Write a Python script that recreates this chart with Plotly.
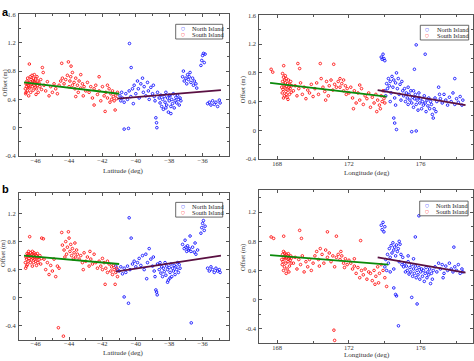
import plotly.graph_objects as go

# ---------------- data ----------------
# Panel a, offset vs latitude
a_lat_south = [(-46.62,0.55),(-46.6,0.48),(-46.58,0.62),(-46.55,0.58),(-46.52,0.66),(-46.5,0.52),(-46.48,0.7),(-46.45,0.6),(-46.42,0.45),(-46.4,0.64),(-46.38,0.9),(-46.36,0.56),(-46.33,0.72),(-46.3,0.5),(-46.28,0.68),(-46.25,0.62),(-46.22,0.74),(-46.2,0.58),(-46.18,0.66),(-46.15,0.53),(-46.12,0.7),(-46.1,0.6),(-46.08,0.75),(-46.05,0.64),(-46.02,0.57),(-46.0,0.69),(-45.97,0.62),(-45.95,0.55),(-45.92,0.72),(-45.9,0.6),(-45.87,0.66),(-45.85,0.5),(-45.8,0.63),(-45.75,0.58),(-45.7,0.68),(-45.65,0.54),(-46.58,0.5),(-46.5,0.62),(-46.44,0.57),(-46.3,0.61),(-46.1,0.65),(-45.98,0.47),
    (-45.6,0.85),(-45.55,0.78),(-45.5,0.6),(-45.4,0.52),(-45.3,0.65),(-45.2,0.45),(-45.1,0.58),(-45.0,0.5),(-44.9,0.62),(-44.8,0.55),(-44.7,0.48),(-44.6,0.6),(-44.5,0.66),
    (-44.44,0.91),(-44.04,0.93),(-43.88,0.87),(-44.4,0.7),(-44.3,0.62),(-44.2,0.68),(-44.1,0.74),(-44.0,0.58),(-43.95,0.66),(-43.9,0.72),(-43.8,0.6),(-43.7,0.64),(-43.65,0.55),(-43.6,0.7),(-43.5,0.6),(-43.45,0.5),(-43.4,0.66),(-43.3,0.56),(-43.2,0.62),(-43.15,0.45),(-43.1,0.58),(-43.0,0.52),(-43.8,0.78),(-43.3,0.75),(-43.6,0.44),
    (-42.9,0.64),(-42.8,0.5),(-42.7,0.58),(-42.6,0.42),(-42.5,0.55),(-42.4,0.6),(-42.3,0.47),(-42.2,0.52),(-42.1,0.38),(-42.0,0.58),(-41.9,0.45),(-41.84,0.23),(-41.8,0.5),(-41.7,0.42),(-41.6,0.55),(-41.55,0.36),(-41.5,0.48),(-41.45,0.4),(-41.4,0.52),(-41.35,0.44),(-41.3,0.38),(-41.24,0.25),(-41.2,0.46),(-41.15,0.41),(-41.1,0.5),(-42.5,0.32),(-42.2,0.72),(-41.7,0.6)]
a_lat_north = [(-40.95,0.45),(-40.9,0.38),(-40.85,0.5),(-40.8,0.42),(-40.7,-0.02),(-40.7,0.36),(-40.6,0.48),(-40.5,0.4),(-40.44,-0.01),(-40.4,0.52),(-40.38,1.19),(-40.3,0.44),(-40.28,0.85),(-40.2,0.55),(-40.15,0.34),(-40.1,0.6),(-40.0,0.48),(-39.9,0.66),(-39.85,0.55),(-39.8,0.42),(-39.7,0.62),(-39.6,0.7),(-39.55,0.5),(-39.5,0.58),(-39.4,0.45),(-39.3,0.64),(-39.25,0.52),(-39.2,0.4),(-39.1,0.57),(-39.0,0.48),(-38.95,0.6),(-38.9,0.44),(-38.85,0.38),(-38.8,0.14),(-38.76,0.07),(-38.74,0.0),(-38.7,0.5),(-38.6,0.42),(-38.55,0.35),(-38.5,0.46),(-38.45,0.3),(-38.4,0.4),(-38.35,0.26),(-38.3,0.44),(-38.25,0.36),(-38.2,0.5),(-38.15,0.32),(-38.1,0.42),(-38.05,0.22),(-38.0,0.38),(-37.95,0.45),(-37.9,0.3),(-37.85,0.4),(-37.8,0.34),(-37.75,0.48),(-37.7,0.28),(-37.65,0.38),(-37.6,0.43),(-37.55,0.35),(-37.5,0.46),(-37.45,0.4),(-37.4,0.32),(-37.35,0.42),(-37.3,0.38),(-38.2,0.28),(-37.9,0.2),(-38.0,0.46),
    (-37.2,0.72),(-37.1,0.66),(-37.0,0.7),(-36.95,0.62),(-36.9,0.75),(-36.85,0.68),(-36.8,0.72),(-36.7,0.64),(-36.6,0.7),(-36.55,0.6),(-36.5,0.66),(-36.4,0.62),(-36.35,0.56),(-37.15,0.8),(-36.75,0.78),
    (-36.1,0.88),(-36.05,0.95),(-36.0,1.02),(-35.95,1.05),(-35.9,0.92),(-35.85,1.04),
    (-35.7,0.34),(-35.6,0.36),(-35.5,0.32),(-35.4,0.38),(-35.3,0.33),(-35.2,0.36),(-35.1,0.3),(-35.0,0.39),(-34.95,0.35)]

# Panel a, offset vs longitude
a_lon_south = [(167.66,0.85),(167.75,0.81),
    (168.25,0.6),(168.28,0.52),(168.3,0.68),(168.32,0.57),(168.35,0.74),(168.36,0.9),(168.38,0.63),(168.4,0.48),(168.42,0.7),(168.44,0.59),(168.46,0.66),(168.48,0.54),(168.5,0.72),(168.52,0.61),(168.55,0.46),(168.58,0.65),(168.6,0.56),(168.62,0.7),(168.65,0.6),(168.68,0.5),(168.7,0.64),(168.72,0.58),(168.75,0.68),(168.78,0.53),(168.8,0.62),(168.3,0.79),(168.35,0.45),(168.45,0.76),(168.5,0.5),(168.6,0.43),
    (168.9,0.55),(169.0,0.62),(169.1,0.48),(169.15,0.93),(169.25,0.86),(169.2,0.58),(169.3,0.66),(169.4,0.5),(169.5,0.6),(169.6,0.44),(169.7,0.56),(169.8,0.52),(169.9,0.64),(170.0,0.47),
    (170.1,0.58),(170.2,0.66),(170.3,0.5),(170.4,0.93),(170.45,0.72),(170.55,0.6),(170.65,0.54),(170.75,0.68),(170.85,0.48),(170.9,0.62),(171.0,0.7),(171.1,0.56),(171.15,0.92),(171.2,0.64),(171.3,0.6),(170.7,0.42),
    (171.4,0.68),(171.5,0.6),(171.6,0.65),(171.7,0.55),(171.8,0.62),(171.9,0.58),(172.0,0.52),(171.5,0.72),(171.7,0.7),(171.85,0.5),
    (172.1,0.6),(172.2,0.45),(172.3,0.55),(172.4,0.38),(172.5,0.52),(172.6,0.42),(172.7,0.58),(172.8,0.36),(172.9,0.48),(173.0,0.44),(173.1,0.52),(173.2,0.32),(172.25,0.3),(172.6,0.63),
    (173.3,0.46),(173.4,0.38),(173.5,0.5),(173.55,0.26),(173.6,0.42),(173.7,0.35),(173.8,0.48),(173.85,0.4),(173.9,0.55),(173.95,0.44),(174.0,0.38),(173.75,0.3)]
a_lon_north = [(173.8,1.02),(173.85,0.99),(173.9,1.06),(173.95,1.0),(174.0,0.97),
    (174.0,0.55),(174.05,0.48),(174.1,0.65),(174.15,0.58),(174.2,0.72),(174.25,0.62),(174.3,0.68),(174.35,0.52),(174.4,0.75),(174.45,0.6),(174.5,0.7),(174.55,0.45),(174.6,0.66),(174.65,0.8),(174.7,0.58),(174.75,0.72),(174.8,0.5),(174.85,0.64),(174.9,0.42),(174.95,0.68),(175.0,0.55),(174.3,0.4),(174.6,0.35),
    (174.5,0.17),(174.55,0.1),(174.65,0.01),(175.5,-0.02),(175.75,-0.01),(175.75,1.19),(176.25,1.06),(175.65,0.85),
    (175.05,0.48),(175.1,0.58),(175.15,0.4),(175.2,0.52),(175.25,0.45),(175.3,0.36),(175.35,0.5),(175.4,0.42),(175.45,0.55),(175.5,0.38),(175.55,0.46),(175.6,0.32),(175.65,0.44),(175.7,0.5),(175.75,0.36),(175.8,0.42),(175.85,0.28),(175.9,0.46),(175.95,0.38),(176.0,0.44),(176.05,0.3),(176.1,0.4),(176.15,0.35),(176.2,0.48),(176.25,0.38),(176.3,0.26),(176.35,0.42),(176.4,0.34),(176.45,0.45),(176.5,0.3),(176.55,0.4),(175.3,0.6),(175.6,0.55),(175.9,0.52),
    (176.6,0.36),(176.65,0.22),(176.7,0.17),(176.75,0.3),(176.8,0.45),(176.85,0.26),(176.9,0.4),(177.0,0.6),(177.05,0.5),
    (177.1,0.44),(177.2,0.38),(177.3,0.5),(177.4,0.42),(177.5,0.35),(177.6,0.46),(177.7,0.4),(177.8,0.52),(177.9,0.36),(178.0,0.44),(178.1,0.39),(178.2,0.47),(178.3,0.35),(178.35,0.42),(177.9,0.72)]

# Panel b, offset vs latitude
b_lat_south = [(-46.62,0.5),(-46.6,0.42),(-46.58,0.58),(-46.55,0.55),(-46.52,0.63),(-46.5,0.47),(-46.48,0.6),(-46.45,0.52),(-46.42,0.66),(-46.4,0.56),(-46.36,0.87),(-46.35,0.6),(-46.32,0.5),(-46.3,0.64),(-46.27,0.58),(-46.25,0.54),(-46.22,0.62),(-46.2,0.66),(-46.17,0.56),(-46.15,0.6),(-46.12,0.5),(-46.1,0.64),(-46.07,0.58),(-46.05,0.55),(-46.02,0.62),(-46.0,0.52),(-45.97,0.6),(-45.95,0.46),(-45.92,0.57),(-45.9,0.63),(-45.87,0.5),(-45.85,0.58),(-45.8,0.54),(-45.75,0.6),(-45.7,0.48),(-45.65,0.56),(-46.55,0.45),(-46.45,0.62),(-46.2,0.45),
    (-45.64,0.85),(-45.54,0.84),(-45.5,0.55),(-45.4,0.4),(-45.3,0.5),(-45.2,0.33),(-45.1,0.46),(-45.0,0.38),(-44.9,0.55),(-44.8,0.3),(-44.7,0.45),(-44.6,0.42),
    (-44.44,0.93),(-44.04,0.94),(-44.4,0.75),(-44.3,0.68),(-44.2,0.8),(-44.15,0.62),(-44.1,0.72),(-44.0,0.85),(-43.95,0.66),(-43.9,0.76),(-43.85,0.6),(-43.8,0.7),(-43.7,0.64),(-43.65,0.78),(-43.6,0.58),(-43.55,0.68),(-43.5,0.62),(-44.25,0.58),(-43.75,0.55),
    (-43.4,0.55),(-43.3,0.6),(-43.2,0.5),(-43.1,0.64),(-43.0,0.52),(-42.9,0.58),(-42.8,0.45),(-42.7,0.55),(-42.6,0.48),(-42.5,0.62),(-42.4,0.5),(-42.3,0.42),(-43.15,0.4),(-42.75,0.66),
    (-42.2,0.52),(-42.1,0.45),(-42.0,0.4),(-41.9,0.5),(-41.84,0.19),(-41.8,0.42),(-41.7,0.36),(-41.6,0.48),(-41.5,0.38),(-41.45,0.44),(-41.4,0.33),(-41.35,0.46),(-41.3,0.4),(-41.24,0.19),(-41.2,0.36),(-41.15,0.42),(-41.1,0.3),(-42.0,0.56),(-41.7,0.52),
    (-44.64,-0.43),(-44.34,-0.55)]
b_lat_north = [(-41.2,0.45),(-41.1,0.4),(-41.0,0.38),(-40.9,0.44),(-40.8,0.34),(-40.7,0.01),(-40.7,0.42),(-40.6,0.36),(-40.5,0.45),(-40.44,-0.08),(-40.4,1.14),(-40.35,0.4),(-40.28,0.85),(-40.2,0.48),(-40.1,0.52),(-40.0,0.44),(-39.9,0.5),(-39.8,0.56),(-39.7,0.46),(-39.6,0.6),(-39.5,0.4),(-39.4,0.62),(-39.3,0.5),(-39.2,0.7),(-39.1,0.55),(-39.0,0.45),(-38.95,0.58),(-38.9,0.38),(-38.85,0.3),(-39.35,0.27),(-38.8,0.11),(-38.76,0.08),(-38.72,0.04),(-38.7,0.48),(-38.6,0.4),(-38.55,0.5),(-38.5,0.35),(-38.45,0.44),(-38.4,0.3),(-38.35,0.42),(-38.3,0.37),(-38.25,0.5),(-38.2,0.32),(-38.15,0.45),(-38.1,0.4),(-38.05,0.25),(-38.0,0.43),(-37.95,0.36),(-37.9,0.48),(-37.85,0.3),(-37.8,0.42),(-37.75,0.38),(-37.7,0.46),(-37.65,0.33),(-37.6,0.44),(-37.55,0.4),(-37.5,0.5),(-37.45,0.36),(-37.4,0.47),(-37.35,0.42),(-38.1,0.22),(-37.95,0.28),
    (-37.2,0.76),(-37.1,0.7),(-37.05,0.82),(-37.0,0.72),(-36.95,0.66),(-36.9,0.74),(-36.85,0.68),(-36.8,0.7),(-36.75,0.88),(-36.7,0.66),(-36.6,0.72),(-36.5,0.65),(-36.45,0.78),(-36.4,0.62),(-36.3,0.68),(-36.68,-0.36),
    (-36.1,0.92),(-36.05,1.0),(-36.0,1.06),(-35.95,1.1),(-35.9,0.96),(-35.85,1.02),
    (-35.7,0.42),(-35.6,0.38),(-35.5,0.44),(-35.4,0.4),(-35.3,0.36),(-35.2,0.42),(-35.1,0.38),(-35.0,0.4),(-34.95,0.36)]

# Panel b, offset vs longitude
b_lon_south = [(167.66,0.86),(167.8,0.84),
    (168.25,0.55),(168.28,0.48),(168.3,0.62),(168.32,0.52),(168.35,0.66),(168.36,0.87),(168.38,0.58),(168.4,0.45),(168.42,0.64),(168.44,0.56),(168.46,0.6),(168.48,0.5),(168.5,0.62),(168.52,0.57),(168.55,0.42),(168.58,0.6),(168.6,0.52),(168.62,0.63),(168.65,0.56),(168.68,0.46),(168.7,0.58),(168.72,0.54),(168.75,0.6),(168.78,0.5),(168.8,0.57),(168.35,0.4),(168.5,0.36),(168.65,0.38),
    (168.9,0.5),(169.0,0.58),(169.1,0.42),(169.2,0.55),(169.3,0.48),(169.4,0.6),(169.5,0.38),(169.6,0.52),(169.7,0.45),(169.8,0.55),(169.9,0.4),(170.0,0.5),(169.25,0.95),(169.35,0.84),
    (170.1,0.6),(170.2,0.66),(170.3,0.55),(170.4,0.7),(170.5,0.62),(170.6,0.5),(170.7,0.68),(170.8,0.58),(170.9,0.64),(171.0,0.52),(171.1,0.6),(171.2,0.45),(171.3,0.58),(170.8,0.93),(171.3,0.87),(170.35,0.46),
    (171.4,0.62),(171.5,0.55),(171.6,0.6),(171.7,0.5),(171.8,0.56),(171.9,0.48),(172.0,0.54),(171.55,0.66),(171.75,0.44),
    (172.1,0.5),(172.2,0.42),(172.3,0.46),(172.4,0.36),(172.5,0.44),(172.6,0.3),(172.7,0.4),(172.8,0.34),(172.9,0.42),(173.0,0.28),(173.1,0.38),(172.65,0.81),(172.3,0.56),
    (173.2,0.36),(173.3,0.26),(173.4,0.4),(173.5,0.32),(173.6,0.45),(173.7,0.36),(173.8,0.48),(173.9,0.4),(174.0,0.3),(173.45,0.21),(173.65,0.23),(174.1,0.18),
    (171.16,-0.42),(171.2,-0.56)]
b_lon_north = [(173.8,1.02),(173.85,0.96),(173.9,1.06),(173.95,0.93),(174.0,1.0),
    (174.0,0.45),(174.05,0.55),(174.1,0.4),(174.15,0.62),(174.2,0.5),(174.25,0.7),(174.3,0.58),(174.35,0.74),(174.4,0.64),(174.45,0.78),(174.5,0.68),(174.55,0.72),(174.6,0.6),(174.65,0.75),(174.7,0.66),(174.75,0.7),(174.8,0.52),(174.85,0.76),(174.9,0.62),(174.95,0.48),(175.0,0.58),(174.3,0.38),(174.5,0.42),(174.8,0.8),
    (174.5,0.16),(174.6,0.07),(174.65,0.05),(174.76,-0.36),(175.9,1.15),(175.7,0.86),(175.5,0.03),(175.8,-0.06),
    (175.05,0.45),(175.1,0.5),(175.15,0.38),(175.2,0.46),(175.25,0.4),(175.3,0.52),(175.35,0.35),(175.4,0.44),(175.45,0.38),(175.5,0.48),(175.55,0.32),(175.6,0.42),(175.65,0.36),(175.7,0.46),(175.75,0.3),(175.8,0.4),(175.85,0.34),(175.9,0.44),(175.95,0.28),(176.0,0.38),(176.05,0.42),(176.1,0.32),(176.15,0.4),(176.2,0.25),(176.25,0.36),(176.3,0.44),(176.35,0.3),(176.4,0.38),(176.45,0.34),(176.5,0.42),(176.55,0.22),(176.6,0.36),(176.65,0.28),(176.7,0.4),(175.3,0.6),(175.6,0.56),
    (176.8,0.45),(176.9,0.38),(177.0,0.5),(177.1,0.42),(177.2,0.48),(177.3,0.36),(177.4,0.46),(177.5,0.4),(177.6,0.5),(177.7,0.42),(177.8,0.38),(177.9,0.45),(178.0,0.4),(178.1,0.48),(178.2,0.36),(178.3,0.42),(178.35,0.38),(177.85,0.72),(177.25,0.3)]

# Fitted trend lines (end points)
a_lat_fit_south = [(-46.7,0.64),(-41.0,0.48)]
a_lat_fit_north = [(-41.1,0.41),(-34.9,0.53)]
a_lon_fit_south = [(167.6,0.66),(174.1,0.47)]
a_lon_fit_north = [(173.6,0.56),(178.5,0.35)]
b_lat_fit_south = [(-46.7,0.60),(-41.0,0.48)]
b_lat_fit_north = [(-41.2,0.37),(-34.9,0.60)]
b_lon_fit_south = [(167.6,0.61),(174.2,0.48)]
b_lon_fit_north = [(173.6,0.58),(178.5,0.37)]

series_names = ["North Island", "South Island"]
lat_ticks = [-46, -44, -42, -40, -38, -36]
lon_ticks = [168, 172, 176]
y_ticks_a = [-0.4, 0, 0.4, 0.8, 1.2, 1.6]
y_ticks_b = [-0.4, 0, 0.4, 0.8, 1.2]

# ---------------- figure ----------------
W, H = 474, 361
BLUE, RED = "#1414ff", "#ff1414"
GREEN, PURPLE = "#0a8a0a", "#5a1042"
FONT = "Liberation Serif"
TXT = "#333"

def fx(p):
    return p / W

def fy(p):
    return 1 - p / H

panels = [
    dict(xa="x", ya="y", north=a_lat_north, south=a_lat_south, fn=a_lat_fit_north, fs=a_lat_fit_south,
         xr=[-47, -34.4], yr=[-0.4, 1.6], xt=lat_ticks, yt=y_ticks_a, xtitle="Latitude (deg)",
         box=(19, 229.3, 10.7, 155), leg=(175.7, 222.7, 20.7, 35.7), xminor=1,
         xt_pos=(123, 170.5), yt_pos=(5, 81)),
    dict(xa="x2", ya="y2", north=a_lon_north, south=a_lon_south, fn=a_lon_fit_north, fs=a_lon_fit_south,
         xr=[167, 178.9], yr=[-0.4, 1.6], xt=lon_ticks, yt=y_ticks_a, xtitle="Longitude (deg)",
         box=(259.3, 472.7, 11.7, 158), leg=(420.3, 468.7, 21.7, 36.7), xminor=2,
         xt_pos=(367, 172), yt_pos=(243, 87)),
    dict(xa="x3", ya="y3", north=b_lat_north, south=b_lat_south, fn=b_lat_fit_north, fs=b_lat_fit_south,
         xr=[-47, -34.4], yr=[-0.6, 1.5], xt=lat_ticks, yt=y_ticks_b, xtitle="Latitude (deg)",
         box=(19, 229.3, 192.3, 342.3), leg=(175.7, 222.7, 202.3, 217.3), xminor=1,
         xt_pos=(123, 355.5), yt_pos=(3, 255)),
    dict(xa="x4", ya="y4", north=b_lon_north, south=b_lon_south, fn=b_lon_fit_north, fs=b_lon_fit_south,
         xr=[167, 178.9], yr=[-0.6, 1.5], xt=lon_ticks, yt=y_ticks_b, xtitle="Longitude (deg)",
         box=(259.3, 472.7, 190, 346), leg=(419.7, 468.1, 201, 216), xminor=2,
         xt_pos=(367, 358), yt_pos=(243, 258)),
]

fig = go.Figure()
layout = dict(width=W, height=H, margin=dict(l=0, r=0, t=0, b=0),
              paper_bgcolor="white", plot_bgcolor="white", showlegend=False)
shapes, annotations = [], []

for p in panels:
    xa, ya = p["xa"], p["ya"]
    for pts, name, col in ((p["north"], series_names[0], BLUE), (p["south"], series_names[1], RED)):
        fig.add_trace(go.Scatter(
            x=[q[0] for q in pts], y=[q[1] for q in pts], mode="markers", name=name,
            xaxis=xa, yaxis=ya,
            marker=dict(symbol="circle-open", size=2.6, color=col, line=dict(width=0.9, color=col))))
    for pts, col in ((p["fs"], GREEN), (p["fn"], PURPLE)):
        fig.add_trace(go.Scatter(
            x=[q[0] for q in pts], y=[q[1] for q in pts], mode="lines", showlegend=False,
            xaxis=xa, yaxis=ya, line=dict(color=col, width=1.8)))
    x0, x1, t, b = p["box"]
    common = dict(showline=True, linecolor="#555", linewidth=1, mirror="ticks", ticks="inside",
                  ticklen=3, tickcolor="#555", showgrid=False, zeroline=False,
                  tickfont=dict(family=FONT, size=6.5, color=TXT))
    layout["xaxis" + xa[1:]] = dict(common, domain=[fx(x0), fx(x1)], range=p["xr"], tickvals=p["xt"],
                                    anchor=ya, ticklabelstandoff=-2,
                                    minor=dict(dtick=p["xminor"], tick0=0, ticks="inside", ticklen=2, tickcolor="#555"))
    layout["yaxis" + ya[1:]] = dict(common, domain=[fy(b), fy(t)], range=p["yr"], tickvals=p["yt"],
                                    ticktext=[("%g" % v) for v in p["yt"]], anchor=xa, ticklabelstandoff=1,
                                    minor=dict(dtick=0.2, tick0=0, ticks="inside", ticklen=2, tickcolor="#555"))
    # axis titles
    annotations.append(dict(text=p["xtitle"], x=fx(p["xt_pos"][0]), y=fy(p["xt_pos"][1]),
                            xref="paper", yref="paper", showarrow=False, xanchor="center", yanchor="middle",
                            font=dict(family=FONT, size=7, color=TXT)))
    annotations.append(dict(text="Offset (m)", x=fx(p["yt_pos"][0]), y=fy(p["yt_pos"][1]), textangle=-90,
                            xref="paper", yref="paper", showarrow=False, xanchor="center", yanchor="middle",
                            font=dict(family=FONT, size=6.5, color=TXT)))
    # legend box
    lx0, lx1, lt, lb = p["leg"]
    shapes.append(dict(type="rect", xref="paper", yref="paper", x0=fx(lx0), x1=fx(lx1), y0=fy(lb), y1=fy(lt),
                       line=dict(color="#444", width=0.8), fillcolor="white", layer="above"))
    for i, (name, col) in enumerate(((series_names[0], BLUE), (series_names[1], RED))):
        yy = lt + 4.0 + i * 6.2
        annotations.append(dict(text="○", x=fx(lx0 + 7), y=fy(yy), xref="paper", yref="paper",
                                showarrow=False, xanchor="center", yanchor="middle",
                                font=dict(family="DejaVu Sans", size=4.5, color=col)))
        annotations.append(dict(text=name, x=fx(lx0 + 14.5), y=fy(yy), xref="paper", yref="paper",
                                showarrow=False, xanchor="left", yanchor="middle",
                                font=dict(family=FONT, size=6.3, color="#222")))

annotations.append(dict(text="<b>a</b>", x=0, y=1, xref="paper", yref="paper", xanchor="left", yanchor="top",
                        showarrow=False, font=dict(family="Liberation Sans", size=11, color="black")))
annotations.append(dict(text="<b>b</b>", x=0, y=fy(180), xref="paper", yref="paper", xanchor="left",
                        yanchor="top", showarrow=False, font=dict(family="Liberation Sans", size=11, color="black")))

layout["shapes"] = shapes
layout["annotations"] = annotations
fig.update_layout(**layout)

fig.write_html("out.html", config={"displayModeBar": False},
               post_script="document.body.style.margin='0';document.body.style.overflow='hidden';")
